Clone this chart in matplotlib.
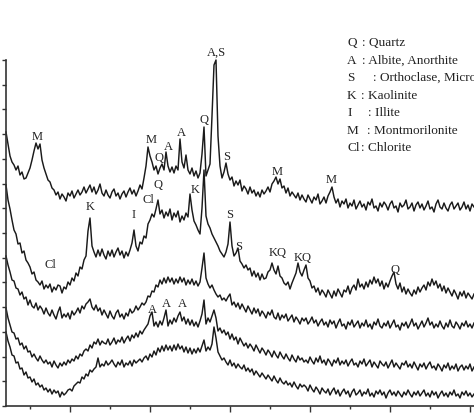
import numpy as np
import matplotlib
matplotlib.use("Agg")
import matplotlib.pyplot as plt
from matplotlib.ticker import MultipleLocator

# -----------------------------
# Data (2-theta in degrees, intensity in a.u.)
# -----------------------------
TWO_THETA = np.arange(2.0, 60.51, 0.25)

SAMPLE_1 = [
    274, 262, 250, 244, 241, 236, 240, 231, 234, 227,
    228, 233, 238, 246, 255, 263, 257, 262, 246, 238,
    232, 226, 224, 218, 216, 211, 214, 207, 212, 209,
    205, 213, 210, 215, 208, 212, 216, 211, 214, 219,
    213, 217, 221, 214, 219, 212, 216, 222, 213, 210,
    216, 211, 208, 214, 217, 210, 213, 207, 212, 215,
    209, 214, 218, 212, 216, 210, 215, 221, 217, 228,
    240, 259, 250, 244, 236, 240, 232, 238, 242, 236,
    254, 240, 234, 239, 233, 240, 236, 267, 244, 238,
    251, 236, 232, 238, 230, 235, 228, 233, 252, 279,
    230, 236, 242, 290, 341, 346, 270, 240, 228, 234,
    243, 232, 226, 229, 220, 225, 221, 226, 215, 220,
    217, 212, 219, 213, 216, 210, 214, 209, 216, 212,
    215, 219, 214, 222, 225, 229, 222, 227, 218, 220,
    213, 218, 210, 214, 211, 208, 213, 206, 211, 207,
    204, 211, 207, 203, 209, 206, 212, 202, 205, 209,
    203, 210, 214, 219, 209, 203, 207, 199, 205, 202,
    207, 198, 203, 200, 206, 197, 201, 205, 199, 202,
    196, 204, 201, 207, 198, 200, 195, 203, 199, 204,
    201, 196, 202, 205, 198, 200, 194, 203, 199, 201,
    206, 197, 199, 203, 195, 201, 204, 198, 202, 196,
    200, 205, 197, 199, 194, 202, 206, 199, 197, 203,
    198, 195, 201, 204, 197, 200, 203, 196, 199, 204,
    197, 201, 195, 202, 199,
]

SAMPLE_2 = [
    221, 206, 197, 186, 176, 172, 162, 163, 153, 155,
    146, 143, 139, 132, 134, 126, 124, 121, 125, 117,
    121, 118, 122, 114, 119, 116, 121, 120, 113, 119,
    117, 124, 121, 128, 125, 133, 130, 139, 137, 146,
    150, 175, 188, 160, 154, 149, 156, 150, 157, 151,
    147, 155, 150, 156, 149, 154, 158, 151, 155, 148,
    154, 150, 156, 163, 176, 160, 155, 164, 162, 170,
    168, 182, 186, 192, 189, 197, 206, 192, 196, 188,
    194, 190, 197, 186, 193, 189, 195, 184, 190, 186,
    193, 189, 212, 196, 185, 181, 176, 172, 198, 236,
    190, 182, 178, 172, 168, 164, 160, 155, 152, 149,
    154, 162, 184, 160, 150, 153, 158, 145, 142, 138,
    141, 136, 138, 130, 135, 129, 133, 126, 132, 127,
    128, 134, 136, 143, 136, 132, 140, 130, 128, 123,
    121, 124, 117, 123, 128, 133, 143, 134, 130, 136,
    141, 128, 125, 118, 120, 114, 118, 111, 116, 113,
    109, 116, 112, 108, 115, 110, 117, 113, 109, 116,
    114, 120, 112, 118, 121, 116, 127, 119, 122, 117,
    124, 119, 126, 122, 129, 123, 127, 120, 125, 117,
    123, 119, 125, 130, 134, 122, 117, 123, 114, 119,
    112, 117, 113, 110, 116, 112, 119, 114, 118, 121,
    116, 124, 120, 127, 121, 125, 118, 122, 115, 120,
    113, 118, 114, 110, 116, 112, 107, 114, 110, 115,
    108, 113, 110, 107, 112,
]

SAMPLE_3 = [
    150, 141, 134, 126, 125, 118, 117, 111, 114, 107,
    109, 101, 106, 100, 98, 103, 96, 100, 97, 92,
    98, 93, 90, 96, 91, 87, 94, 99, 88, 92,
    89, 93, 87, 95, 91, 94, 98, 93, 100, 97,
    102, 104, 107, 99, 96, 101, 95, 98, 91, 96,
    92, 88, 95, 90, 87, 93, 96, 89, 92, 87,
    93, 90, 97, 93, 95, 100, 96, 99, 103, 101,
    104, 110, 109, 115, 114, 121, 119, 126, 122, 128,
    123, 129, 124, 128, 122, 127, 123, 129, 124, 128,
    121, 126, 122, 127, 121, 125, 120, 124, 138, 153,
    128, 122, 118, 121, 116, 112, 109, 111, 106, 108,
    105, 109, 112, 101, 104, 99, 103, 97, 102, 98,
    94, 100, 96, 92, 98, 93, 97, 90, 95, 92,
    88, 94, 91, 96, 89, 87, 93, 86, 91, 88,
    92, 85, 88, 91, 84, 89, 86, 82, 88, 85,
    88, 82, 85, 89, 83, 86, 80, 84, 87, 81,
    84, 79, 86, 82, 85, 78, 83, 87, 80, 82,
    77, 84, 81, 86, 79, 82, 85, 78, 83, 80,
    86, 79, 82, 77, 84, 81, 87, 80, 78, 83,
    80, 85, 78, 82, 86, 79, 81, 76, 83, 80,
    84, 78, 82, 87, 80, 83, 77, 81, 85, 79,
    83, 88, 81, 84, 78, 82, 79, 85, 80, 77,
    83, 79, 86, 80, 78, 84, 81, 77, 83, 80,
    85, 79, 82, 78, 83,
]

SAMPLE_4 = [
    98, 88, 81, 74, 73, 67, 68, 61, 63, 57,
    60, 54, 55, 49, 52, 48, 45, 50, 46, 43,
    46, 42, 44, 39, 45, 41, 38, 43, 40, 44,
    41, 46, 43, 47, 45, 50, 47, 52, 50, 55,
    57, 55, 61, 58, 64, 62, 67, 61, 65, 63,
    62, 67, 61, 64, 68, 62, 66, 64, 69, 63,
    67, 70, 65, 71, 68, 73, 69, 75, 72, 76,
    79, 82, 90, 94, 80, 84, 79, 85, 81, 88,
    96, 80, 86, 82, 88, 84, 90, 94, 85, 89,
    82, 87, 81, 86, 80, 84, 79, 85, 92, 106,
    82, 88, 84, 90, 96, 88, 75, 78, 73, 76,
    71, 74, 67, 72, 66, 69, 62, 68, 64, 60,
    63, 58, 62, 59, 55, 61, 57, 53, 58, 55,
    51, 56, 53, 49, 55, 51, 48, 54, 50, 47,
    52, 48, 45, 51, 47, 44, 50, 46, 48, 44,
    46, 43, 49, 45, 42, 48, 44, 50, 43, 46,
    41, 47, 44, 40, 46, 43, 48, 41, 45, 42,
    46, 40, 44, 47, 41, 43, 39, 45, 42, 47,
    40, 43, 46, 39, 44, 41, 38, 45, 42, 40,
    44, 38, 42, 46, 39, 43, 40, 37, 43, 41,
    45, 39, 42, 38, 44, 40, 36, 42, 39, 43,
    37, 41, 44, 38, 40, 36, 42, 39, 35, 41,
    38, 43, 36, 40, 37, 42, 35, 39, 41, 36,
    40, 37, 42, 35, 39,
]

SAMPLE_5 = [
    74, 65, 59, 51, 50, 43, 44, 37, 38, 31,
    34, 28, 29, 24, 27, 21, 23, 19, 21, 16,
    18, 14, 17, 12, 16, 13, 15, 9, 14, 11,
    13, 16, 17, 15, 20, 22, 24, 23, 29, 27,
    32, 30, 36, 34, 37, 39, 48, 39, 42, 40,
    45, 41, 43, 46, 42, 39, 44, 41, 46, 39,
    43, 41, 45, 40, 46, 43, 45, 47, 44, 48,
    50, 46, 52, 49, 55, 51, 58, 54, 60, 55,
    61, 56, 60, 55, 61, 56, 62, 57, 60, 54,
    59, 53, 58, 52, 57, 53, 58, 54, 60, 66,
    55, 59, 56, 62, 79, 68, 54, 50, 46, 48,
    44, 41, 46, 40, 43, 38, 42, 39, 37, 41,
    35, 38, 34, 37, 31, 35, 32, 29, 33, 30,
    27, 31, 28, 25, 30, 26, 23, 28, 24, 22,
    25, 21, 23, 19, 24, 20, 17, 22, 19, 21,
    19, 15, 21, 17, 14, 19, 16, 12, 18, 15,
    13, 17, 11, 15, 18, 12, 16, 10, 14, 17,
    12, 15, 9, 14, 17, 11, 13, 16, 10, 14,
    12, 17, 10, 13, 9, 15, 12, 16, 11, 14,
    8, 13, 16, 11, 14, 10, 15, 12, 9, 14,
    11, 16, 12, 9, 14, 11, 15, 10, 13, 16,
    10, 13, 9, 15, 11, 14, 8, 12, 15, 10,
    13, 9, 14, 11, 16, 10, 12, 8, 14, 11,
    15, 10, 13, 9, 12,
]

SAMPLES = [SAMPLE_1, SAMPLE_2, SAMPLE_3, SAMPLE_4, SAMPLE_5]

# peak labels: (text, 2-theta, intensity)
PEAK_LABELS = [
    ("M", 5.9, 269), ("M", 20.1, 266), ("Q", 21.1, 248), ("A", 22.25, 259),
    ("A", 23.9, 273), ("Q", 26.75, 286), ("A,S", 28.25, 353), ("S", 29.6, 249),
    ("M", 35.9, 234), ("M", 42.6, 226),
    ("Cl", 7.5, 141), ("K", 12.5, 199), ("I", 17.9, 191), ("Cl", 19.75, 206),
    ("Q", 21.0, 221), ("K", 25.6, 216), ("S", 30.0, 191), ("S", 31.1, 159),
    ("KQ", 35.9, 153), ("KQ", 39.1, 148), ("Q", 50.6, 136),
    ("A", 20.25, 96), ("A", 22.1, 102), ("A", 24.0, 102),
]

LEGEND_KEYS = ["Q", "A", "S", "K", "I", "M", "Cl"]
LEGEND_NAMES = [": Quartz", ": Albite, Anorthite", ": Orthoclase, Microcline",
                ": Kaolinite", ": Illite", ": Montmorilonite", ": Chlorite"]

# -----------------------------
# Style
# -----------------------------
LINE_COLOR = "#1a1a1a"
TEXT_COLOR = "#222222"
AXIS_COLOR = "#333333"
FONT = "Liberation Serif"
W, H = 474, 413

fig = plt.figure(figsize=(W / 100, H / 100), dpi=100)
ax = fig.add_axes([6 / W, 7 / H, 468 / W, 346 / H])

n = len(TWO_THETA)
for ys in SAMPLES:
    ax.plot(TWO_THETA[:len(ys)], ys[:n], color=LINE_COLOR, linewidth=1.05, clip_on=False)

for txt, x, y in PEAK_LABELS:
    ax.text(x, y, txt, ha="center", va="center", fontsize=9,
            family=FONT, color=TEXT_COLOR, clip_on=False)

ax.set_xlim(2.0, 60.5)
ax.set_ylim(0, 346)
ax.xaxis.set_major_locator(MultipleLocator(10))
ax.xaxis.set_minor_locator(MultipleLocator(5))
ax.set_yticks(np.linspace(0, 346, 15))
ax.set_xticklabels([])
ax.set_yticklabels([])
ax.tick_params(axis="x", which="major", direction="out", length=4, width=1, color=AXIS_COLOR)
ax.tick_params(axis="x", which="minor", direction="out", length=2, width=1, color=AXIS_COLOR)
ax.tick_params(axis="y", direction="out", length=3, width=1, color=AXIS_COLOR)

for side in ["top", "right"]:
    ax.spines[side].set_visible(False)
for side in ["left", "bottom"]:
    ax.spines[side].set_linewidth(1.2)
    ax.spines[side].set_color(AXIS_COLOR)

legend_rows = [43, 61, 78, 96, 113, 131, 148]
colon_x = [362, 362, 373, 361, 368, 367, 361]
for key, name, row, cx in zip(LEGEND_KEYS, LEGEND_NAMES, legend_rows, colon_x):
    fig.text(347 / W, 1 - row / H, key, ha="left", va="center",
             fontsize=9.5, family=FONT, color=TEXT_COLOR)
    fig.text(cx / W, 1 - row / H, name, ha="left", va="center",
             fontsize=9.5, family=FONT, color=TEXT_COLOR)

fig.savefig("out.png", dpi=100)
plt.close(fig)
